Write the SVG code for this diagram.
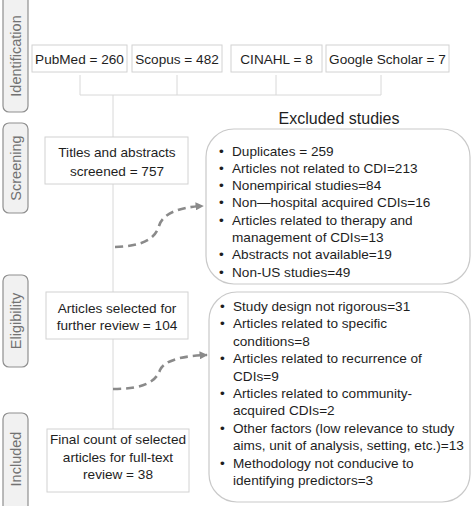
<svg xmlns="http://www.w3.org/2000/svg" width="474" height="506" viewBox="0 0 474 506">
<defs>
<style>
.phase{fill:#f1f1f1;stroke:#8f8f8f;stroke-width:1.2}
.ptxt{font-family:"Liberation Sans",Arial,sans-serif;font-size:14.5px;fill:#727272;text-anchor:middle}
.node{fill:#fff;stroke:#d2d2d2;stroke-width:1}
.ntxt{font-family:"Liberation Sans",Arial,sans-serif;font-size:13.6px;fill:#1e1e1e;text-anchor:middle}
.excl{fill:#fff;stroke:#c9c9c9;stroke-width:1.2}
.ltxt{font-family:"Liberation Sans",Arial,sans-serif;font-size:13.6px;fill:#1e1e1e}
.conn{fill:none;stroke:#d8d8d8;stroke-width:1}
.dash{fill:none;stroke:#8a8a8a;stroke-width:2.6;stroke-dasharray:8 5}
</style>
<marker id="ah" viewBox="0 0 10 10" refX="9" refY="5" markerWidth="3.2" markerHeight="3.2" orient="auto" markerUnits="strokeWidth">
<path d="M0,0 L10,5 L0,10 z" fill="#8a8a8a"/>
</marker>
</defs>
<rect width="474" height="506" fill="#fff"/>

<g id="phase-identification"><rect class="phase" x="3" y="-6" width="25" height="118" rx="6"/><text class="ptxt" transform="translate(20.5,56) rotate(-90)">Identification</text></g>
<g id="phase-screening"><rect class="phase" x="3" y="123" width="25" height="90" rx="6"/><text class="ptxt" transform="translate(20.5,168) rotate(-90)">Screening</text></g>
<g id="phase-eligibility"><rect class="phase" x="3" y="275" width="25" height="92" rx="6"/><text class="ptxt" transform="translate(20.5,321) rotate(-90)">Eligibility</text></g>
<g id="phase-included"><rect class="phase" x="3" y="413" width="25" height="100" rx="6"/><text class="ptxt" transform="translate(20.5,459) rotate(-90)">Included</text></g>

<g id="connectors">
<path class="conn" d="M80,75 V95 M177,75 V95 M276,75 V95 M381,75 V95 M80,95 H381"/>
<path class="conn" d="M113,95 V137 M113,184 V292 M113,339 V429"/>
<path class="dash" marker-end="url(#ah)" d="M115,247 C145,246 155,238 159,226 C163,213 180,207 203,206"/>
<path class="dash" marker-end="url(#ah)" d="M113,389 C145,389 156,381 160,370 C165,360 182,356 207,355"/>
</g>

<g id="pubmed"><rect class="node" x="32" y="45" width="95" height="27"/><text class="ntxt" x="79.5" y="63.5">PubMed = 260</text></g>
<g id="scopus"><rect class="node" x="132" y="45" width="90" height="27"/><text class="ntxt" x="177" y="63.5">Scopus = 482</text></g>
<g id="cinahl"><rect class="node" x="231" y="45" width="91" height="27"/><text class="ntxt" x="276.5" y="63.5">CINAHL = 8</text></g>
<g id="google-scholar"><rect class="node" x="326" y="45" width="123" height="27"/><text class="ntxt" x="387.5" y="63.5">Google Scholar = 7</text></g>

<g id="titles-screened"><rect class="node" x="45" y="137" width="143" height="47"/><text class="ntxt" x="117" y="157">Titles and abstracts</text><text class="ntxt" x="117" y="175.5">screened = 757</text></g>
<g id="articles-selected"><rect class="node" x="46" y="292" width="142" height="47"/><text class="ntxt" x="117" y="312.5">Articles selected for</text><text class="ntxt" x="117" y="330">further review = 104</text></g>
<g id="final-count"><rect class="node" x="47" y="429" width="142" height="63"/><text class="ntxt" x="118" y="444">Final count of selected</text><text class="ntxt" x="118" y="461.5">articles for full-text</text><text class="ntxt" x="118" y="479">review = 38</text></g>

<g id="excluded-title"><text x="339" y="124" style="font-family:'Liberation Sans',Arial,sans-serif;font-size:16px;fill:#1e1e1e;text-anchor:middle">Excluded studies</text></g>

<g id="excluded-screening">
<rect class="excl" x="206" y="129" width="264" height="155" rx="28"/>
<text class="ltxt">
<tspan x="219" y="155.5">•</tspan><tspan x="232" y="155.5">Duplicates = 259</tspan>
<tspan x="219" y="172.8">•</tspan><tspan x="232" y="172.8">Articles not related to CDI=213</tspan>
<tspan x="219" y="190.1">•</tspan><tspan x="232" y="190.1">Nonempirical studies=84</tspan>
<tspan x="219" y="207.4">•</tspan><tspan x="232" y="207.4">Non—hospital acquired CDIs=16</tspan>
<tspan x="219" y="224.7">•</tspan><tspan x="232" y="224.7">Articles related to therapy and</tspan>
<tspan x="232" y="242">management of CDIs=13</tspan>
<tspan x="219" y="259.3">•</tspan><tspan x="232" y="259.3">Abstracts not available=19</tspan>
<tspan x="219" y="276.6">•</tspan><tspan x="232" y="276.6">Non-US studies=49</tspan>
</text>
</g>

<g id="excluded-eligibility">
<rect class="excl" x="209" y="292" width="261" height="210" rx="28"/>
<text class="ltxt">
<tspan x="220" y="311">•</tspan><tspan x="233" y="311">Study design not rigorous=31</tspan>
<tspan x="220" y="328.4">•</tspan><tspan x="233" y="328.4">Articles related to specific</tspan>
<tspan x="233" y="345.8">conditions=8</tspan>
<tspan x="220" y="363.2">•</tspan><tspan x="233" y="363.2">Articles related to recurrence of</tspan>
<tspan x="233" y="380.6">CDIs=9</tspan>
<tspan x="220" y="398">•</tspan><tspan x="233" y="398">Articles related to community-</tspan>
<tspan x="233" y="415.4">acquired CDIs=2</tspan>
<tspan x="220" y="432.8">•</tspan><tspan x="233" y="432.8">Other factors (low relevance to study</tspan>
<tspan x="233" y="450.2">aims, unit of analysis, setting, etc.)=13</tspan>
<tspan x="220" y="467.6">•</tspan><tspan x="233" y="467.6">Methodology not conducive to</tspan>
<tspan x="233" y="485">identifying predictors=3</tspan>
</text>
</g>
</svg>
